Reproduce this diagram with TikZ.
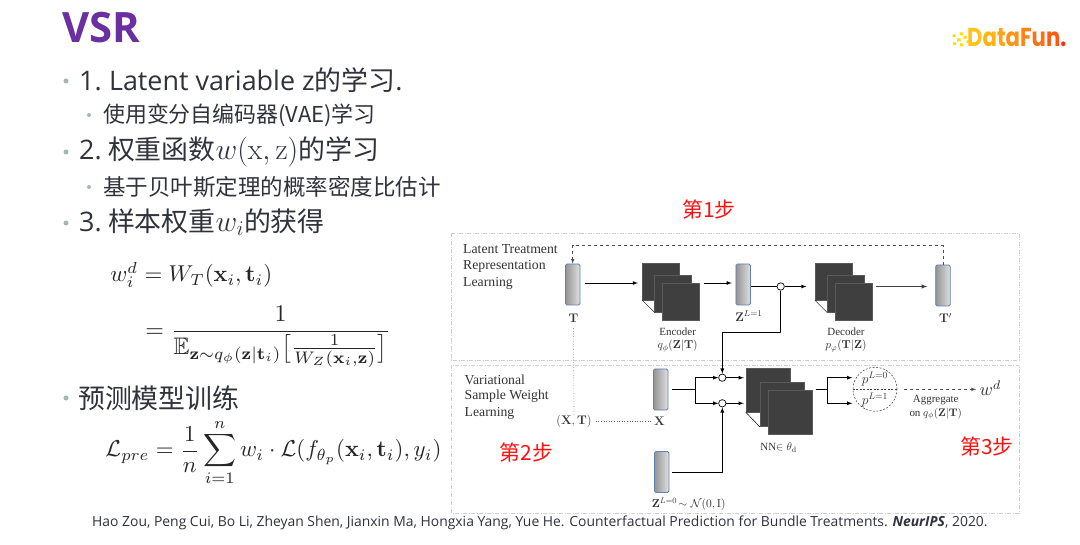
\documentclass[tikz,border=0pt]{standalone}
\usepackage{fix-cm}
\usepackage{amsmath,amssymb}
\usepackage[no-math]{fontspec}
\setmainfont{Open Sans}
\newfontfamily\cjk{Noto Sans CJK SC}
\newfontfamily\figfont{Liberation Serif}
\newfontfamily\logofont[AutoFakeSlant=0.18]{Poppins}
\usetikzlibrary{shadings}
\definecolor{slidetext}{HTML}{30323C}
\definecolor{vsrpurple}{HTML}{6B2FA0}
\definecolor{bulletgray}{HTML}{A6B8AE}
\definecolor{stepred}{HTML}{FF1010}
\definecolor{convfill}{HTML}{3F3F3F}
\definecolor{barblue}{HTML}{5F7FB5}
\definecolor{panelgray}{HTML}{CFCFCF}
\tikzset{
  headline/.style={anchor=west,inner sep=0pt,text=slidetext,font=\fontsize{#1}{#1}\selectfont},
  bulletdot/.style={circle,fill=bulletgray,inner sep=0pt,minimum size=#1},
  latentbar/.style={draw=barblue,line width=0.8pt,rounded corners=1.5bp,left color=black!42,right color=black!12,minimum width=14.6bp,minimum height=41bp,inner sep=0pt},
  convsq/.style={draw=black!65,line width=0.5pt,fill=convfill,minimum size=#1,inner sep=0pt},
  sumcirc/.style={circle,draw=black,line width=0.7pt,fill=white,minimum size=7.4bp,inner sep=0pt},
  figlabel/.style={inner sep=0pt,text=black!80,font=\figfont\fontsize{#1}{#1}\selectfont},
  stepnote/.style={inner sep=0pt,text=stepred,font=\cjk\fontsize{21}{21}\selectfont},
  panelframe/.style={draw=panelgray,line width=0.8pt,dash pattern=on 4bp off 1.5bp on 1bp off 1.5bp},
  flow/.style={->,line width=0.8pt},
}
\begin{document}
\begin{tikzpicture}[>=latex,line join=bevel,x=1bp,y=-1bp]
\useasboundingbox [fill=white] (0,0) rectangle (1080,545);
%% slide text
\node (node_title) at (62,28) [anchor=west,inner sep=0pt,text=vsrpurple,font=\fontsize{42}{42}\selectfont\bfseries] {VSR};
\node (node_dot_1) at (66,81) [bulletdot=5bp] {};
\node (node_line_1) at (79,80) [headline=27] {1.\hspace{-2bp} Latent variable z{\cjk 的学习}.};
\node (node_dot_2) at (89,115) [bulletdot=4bp] {};
\node (node_line_2) at (103,115) [headline=22] {\cjk 使用变分自编码器(VAE)学习};
\node (node_dot_3) at (66,152) [bulletdot=5bp] {};
\node (node_line_3) at (79,152) [headline=27] {2.\hspace{-3bp} {\cjk 权重函数}{\fontsize{30}{30}\selectfont$w(\mathrm{x},\mathrm{z})$}{\cjk 的学习}};
\node (node_dot_4) at (89,187) [bulletdot=4bp] {};
\node (node_line_4) at (103,187) [headline=22.6] {\cjk 基于贝叶斯定理的概率密度比估计};
\node (node_dot_5) at (66,223) [bulletdot=5bp] {};
\node (node_line_5) at (79,222) [headline=27] {3.\hspace{-3bp} {\cjk 样本权重}{\fontsize{30}{30}\selectfont$w_i$}{\cjk 的获得}};
\node (node_dot_6) at (66,398) [bulletdot=5bp] {};
\node (node_line_6) at (78,398) [headline=27] {\cjk 预测模型训练};
%% formulas
\node (node_eq_1) at (110,275) [anchor=west,inner sep=0pt,scale=2.3,text=black!85] {$w_i^d = W_T(\mathbf{x}_i,\mathbf{t}_i)$};
\node (node_eq_2) at (145,336.5) [anchor=west,inner sep=0pt,scale=2.4,text=black!85] {$=\dfrac{1}{\mathbb{E}_{\mathbf{z}\sim q_\phi(\mathbf{z}|\mathbf{t}_i)}\bigl[\frac{1}{W_Z(\mathbf{x}_i,\mathbf{z})}\bigr]}$};
\node (node_eq_3) at (105,452.5) [anchor=west,inner sep=0pt,scale=2.3,text=black!85] {$\mathcal{L}_{pre}=\dfrac{1}{n}\displaystyle\sum_{i=1}^{n} w_i\cdot\mathcal{L}(f_{\theta_p}(\mathbf{x}_i,\mathbf{t}_i),y_i)$};
%% footer
\node (node_cite) at (92,523) [anchor=west,inner sep=0pt,text=slidetext,font=\fontsize{13.95}{14}\selectfont] {Hao Zou, Peng Cui, Bo Li, Zheyan Shen, Jianxin Ma, Hongxia Yang, Yue He. Counterfactual Prediction for Bundle Treatments. \textbf{\textit{NeurIPS}}, 2020.};
%% logo
\fill [yellow!80!orange] (952.5,34.5) rectangle (955.5,37) (959.5,32.5) rectangle (963,35.5) (957,38.5) rectangle (960.5,41.5) (963.5,36) rectangle (966.5,39) (953,42.5) rectangle (956,45) (960,43.5) rectangle (963,46.5) (966.5,40.5) rectangle (969,43);
\node (node_logo) at (967,38) [anchor=west,inner sep=0pt,xscale=0.82,font=\logofont\bfseries\fontsize{26}{26}\selectfont] {\textcolor[HTML]{FFC31E}{D}\textcolor[HTML]{FFB416}{a}\textcolor[HTML]{FFA414}{t}\textcolor[HTML]{FF9414}{a}\textcolor[HTML]{FF8414}{F}\textcolor[HTML]{FF7014}{u}\textcolor[HTML]{FF5A14}{n}\textcolor[HTML]{F0301A}{.}};
%% panels
\draw [panelframe] (451.5,233.5) rectangle (1019,360);
\draw [panelframe] (451.5,365) rectangle (1019,513.5);
\node (node_step_1) at (709,210) [stepnote] {第1步};
\node (node_step_2) at (526.5,453) [stepnote] {第2步};
\node (node_step_3) at (987,447) [stepnote] {第3步};
\node (node_top_1) at (463,249.5) [anchor=west,figlabel=13.8] {Latent Treatment};
\node (node_top_2) at (463,266.5) [anchor=west,figlabel=13.8] {Representation};
\node (node_top_3) at (463,283.5) [anchor=west,figlabel=13.8] {Learning};
\node (node_low_1) at (464.5,379.5) [anchor=west,figlabel=13.8] {Variational};
\node (node_low_2) at (464.5,396.5) [anchor=west,figlabel=13.8] {Sample Weight};
\node (node_low_3) at (464.5,413.5) [anchor=west,figlabel=13.8] {Learning};
%% latent bars
\node (node_t) at (572.7,284.5) [latentbar] {};
\node (node_z_one) at (743.2,284.5) [latentbar] {};
\node (node_t_prime) at (943,285.5) [latentbar] {};
\node (node_x) at (660.7,389.5) [latentbar] {};
\node (node_z_zero) at (661.7,472) [latentbar] {};
%% conv stacks
\node (node_enc_1) at (661.2,281.6) [convsq=37bp] {};
\node (node_enc_2) at (673.2,293.6) [convsq=37bp] {};
\node (node_enc_3) at (680.8,301.3) [convsq=37bp] {};
\node (node_dec_1) at (833.7,281.6) [convsq=37bp] {};
\node (node_dec_2) at (845.7,293.6) [convsq=37bp] {};
\node (node_dec_3) at (853.5,301.3) [convsq=37bp] {};
\node (node_nn_1) at (768,390) [convsq=44bp] {};
\node (node_nn_2) at (782,404.5) [convsq=44bp] {};
\node (node_nn_3) at (790,412) [convsq=44bp] {};
\draw [line width=0.5pt] (node_enc_1.south west) -- (node_enc_2.south west);
\draw [line width=0.5pt] (node_dec_1.south west) -- (node_dec_2.south west);
\draw [line width=0.5pt] (node_nn_1.south west) -- (node_nn_2.south west);
%% labels
\node (node_t_lab) at (573.5,318) [figlabel=12.5] {$\mathbf{T}$};
\node (node_z_one_lab) at (749,316) [figlabel=12.5] {$\mathbf{Z}^{L=1}$};
\node (node_t_prime_lab) at (945.5,318) [figlabel=12.5] {$\mathbf{T}'$};
\node (node_enc_lab) at (677.7,331.7) [figlabel=11] {Encoder};
\node (node_enc_eq) at (677.7,346) [figlabel=11.5] {$q_\phi(\mathbf{Z}|\mathbf{T})$};
\node (node_dec_lab) at (846,331.7) [figlabel=11] {Decoder};
\node (node_dec_eq) at (846,345.7) [figlabel=11.5] {$p_\varphi(\mathbf{T}|\mathbf{Z})$};
\node (node_xt_lab) at (574,421.5) [figlabel=12.5] {$(\mathbf{X},\mathbf{T})$};
\node (node_x_lab) at (659.5,421.5) [figlabel=12.5] {$\mathbf{X}$};
\node (node_z_zero_lab) at (688.7,504) [figlabel=11.5] {$\mathbf{Z}^{L=0}\!\sim\mathcal{N}(0,\mathrm{I})$};
\node (node_nn_lab) at (778.7,448) [figlabel=11] {NN$\in\theta_{\mathrm{d}}$};
\node (node_agg_1) at (935.7,399.7) [figlabel=11] {Aggregate};
\node (node_agg_2) at (935.7,413.5) [figlabel=11] {on $q_\phi(\mathbf{Z}|\mathbf{T})$};
\node (node_w) at (990.5,388) [inner sep=0pt,text=black!80,scale=1.8] {$w^d$};
%% sum points and output
\node (node_sum_0) at (780.7,286.5) [sumcirc] {};
\node (node_sum_1) at (722.3,377.7) [sumcirc] {};
\node (node_sum_2) at (722.3,403.3) [sumcirc] {};
\coordinate (node_join_x) at (695,389);
\coordinate (node_join_nn) at (827,389);
\node (node_p) at (875,389.3) [circle,draw=black!75,dash pattern=on 2bp off 1.5bp,line width=0.5pt,minimum size=44bp,inner sep=0pt] {};
\draw [black!75,dash pattern=on 2bp off 1.5bp,line width=0.5pt] (node_p.west) -- (node_p.east);
\node (node_p_0) at (875,379) [figlabel=13.5] {$p^{L=0}$};
\node (node_p_1) at (875,400) [figlabel=13.5] {$p^{L=1}$};
%% connectors
\draw [flow,shorten <=5bp,shorten >=4.5bp] ([yshift=1.5bp]node_t.east) -- ([yshift=1.5bp]node_t.east -| node_enc_1.west);
\draw [flow,shorten <=4bp,shorten >=3.7bp] ([yshift=1.5bp]node_z_one.west -| node_enc_3.east) -- ([yshift=1.5bp]node_z_one.west);
\draw [line width=0.8pt] (node_z_one.east |- node_sum_0) -- (node_sum_0);
\draw [flow,shorten >=8.5bp] (node_sum_0.east) -- (node_sum_0 -| node_dec_1.west);
\draw [flow,black!75,line width=1pt,shorten <=4bp,shorten >=8bp] (node_dec_3.east |- node_sum_0) -- (node_sum_0 -| node_t_prime.west);
\draw [->,black!70,dashed,line width=0.6pt] (node_t_prime.north) |- (572.7,245.7) -- (node_t.north);
\draw [flow] (node_sum_0.south) |- (722.3,332) -- (node_sum_1.north);
\draw [line width=0.8pt,shorten <=4bp] (node_x.east |- node_join_x) -- (node_join_x);
\draw [flow] (node_join_x) |- (node_sum_1.west);
\draw [flow] (node_join_x) |- (node_sum_2.west);
\draw [flow,shorten <=3bp] (node_z_zero.east) -| (node_sum_2.south);
\draw [flow,shorten >=2bp] (node_sum_1.east) -- (node_sum_1 -| node_nn_1.west);
\draw [flow,shorten >=2bp] (node_sum_2.east) -- (node_sum_2 -| node_nn_1.west);
\draw [line width=0.8pt,shorten <=3.3bp] (node_nn_3.east |- node_join_nn) -- (node_join_nn);
\draw [flow,shorten >=0.5bp] (node_join_nn) |- (node_p.west |- node_sum_1);
\draw [flow,shorten >=0.5bp] (node_join_nn) |- (node_p.west |- node_sum_2);
\draw [->,black!70,dashed,line width=0.6pt,shorten <=7bp] (node_p.east) -- (976,389.3);
\draw [black!55,dotted,line width=0.6pt] (node_t_lab.south) ++(0,6) -- (node_xt_lab.north);
\draw [black!60,dotted,line width=0.6pt,shorten <=4bp,shorten >=3bp] (node_xt_lab.east) -- (node_x_lab.west);
%
\end{tikzpicture}
\end{document}
